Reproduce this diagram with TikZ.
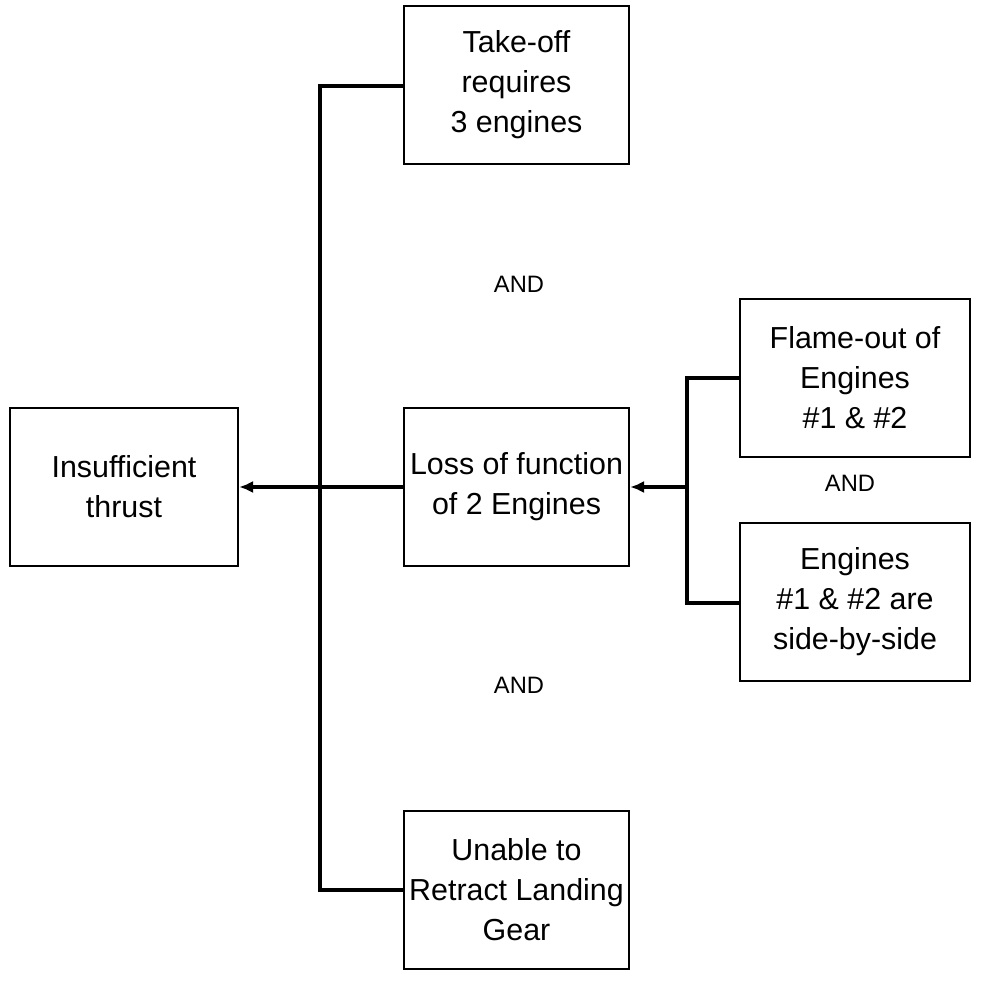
\documentclass[tikz,border=0pt]{standalone}
\usepackage{fontspec}
\setmainfont{Liberation Sans}
\usetikzlibrary{arrows.meta}
\begin{document}
\begin{tikzpicture}[x=0.02cm,y=-0.02cm,
  box/.style={draw,line width=1.3pt,minimum width=4.5cm,minimum height=3.16cm,align=center,inner sep=0pt,font=\fontsize{17.3pt}{22.7pt}\selectfont},
  wide/.style={box,minimum width=4.6cm},
  lbl/.style={font=\fontsize{13.5pt}{15pt}\selectfont},
  ln/.style={line width=1.8pt},
  arr/.style={ln,-{Latex[length=8pt,width=7pt]}}]
\useasboundingbox (0,0) rectangle (980,982);
\node[box,minimum width=4.56cm] (ins) at (124,487) {Insufficient\\thrust};
\node[box] (take) at (516.5,85) {Take-off\\requires\\3 engines};
\node[box] (loss) at (516.5,487) {Loss of function\\of 2 Engines};
\node[box] (gear) at (516.5,890) {Unable to\\Retract Landing\\Gear};
\node[wide] (flame) at (855,378) {Flame-out of\\Engines\\ \#1 \& \#2};
\node[wide] (side) at (855,602) {Engines\\\#1 \& \#2 are\\side-by-side};
\node[lbl] (and1) at (519,284) {AND};
\node[lbl] (and2) at (519,685) {AND};
\node[lbl] (and3) at (850,483) {AND};
\coordinate (t1) at (320,86);
\coordinate (t2) at (320,890);
\coordinate (b1) at (687,378);
\coordinate (b2) at (687,603);
\coordinate (bm) at (687,487);
\draw[ln] (take.west|-t1) -- (t1) -- (t2) -- (gear.west|-t2);
\draw[arr] (loss.west) -- (ins.east);
\draw[ln] (flame.west|-b1) -- (b1) -- (b2) -- (side.west|-b2);
\draw[arr] (bm) -- (loss.east);
\end{tikzpicture}
\end{document}
